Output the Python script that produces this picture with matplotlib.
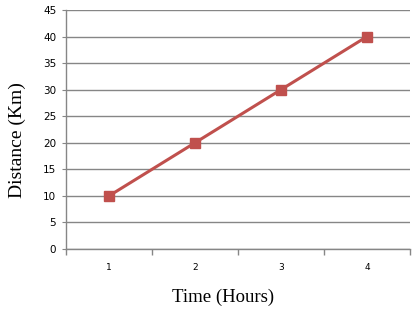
import matplotlib
matplotlib.use('Agg')
import matplotlib.pyplot as plt

hours = [1, 2, 3, 4]
distance = [10, 20, 30, 40]
y_ticks = list(range(0, 50, 5))

grey = '#868686'
red = '#C0504D'

fig = plt.figure(figsize=(4.19, 3.10), dpi=100)
ax = fig.add_axes([66/419, 1-249/310, 344/419, 239/310])

ax.plot(hours, distance, color=red, linewidth=2.2, marker='s', markersize=7.5,
        markerfacecolor=red, markeredgecolor=red, zorder=3)

ax.set_xlim(0.5, 4.5)
ax.set_ylim(0, 45)
ax.set_yticks(y_ticks)
ax.set_xticks(hours)
ax.set_xticks([0.5, 1.5, 2.5, 3.5, 4.5], minor=True)
ax.grid(axis='y', color=grey, linewidth=1)
ax.set_axisbelow(True)

for s in ['top', 'right']:
    ax.spines[s].set_visible(False)
for s in ['left', 'bottom']:
    ax.spines[s].set_color(grey)
    ax.spines[s].set_linewidth(1)

ax.tick_params(axis='y', colors=grey, labelcolor='black', length=3, labelsize=7.5,
               pad=4)
ax.tick_params(axis='x', which='major', length=0, labelsize=6.5, pad=10,
               labelcolor='black')
ax.tick_params(axis='x', which='minor', length=4, color=grey, width=1)

# label positions in figure pixels (Excel-style placement)
ax.set_xlabel('Time (Hours)', family='Liberation Serif', fontsize=13.5)
ax.set_ylabel('Distance (Km)', family='Liberation Serif', fontsize=14)
ax.xaxis.set_label_coords((223 - 66) / 344, (249 - 297) / 239)
ax.yaxis.set_label_coords((17 - 66) / 344, (249 - 140) / 239)
ax.xaxis.label.set_va('center')
ax.yaxis.label.set_va('center')

fig.savefig('out.png', dpi=100)
